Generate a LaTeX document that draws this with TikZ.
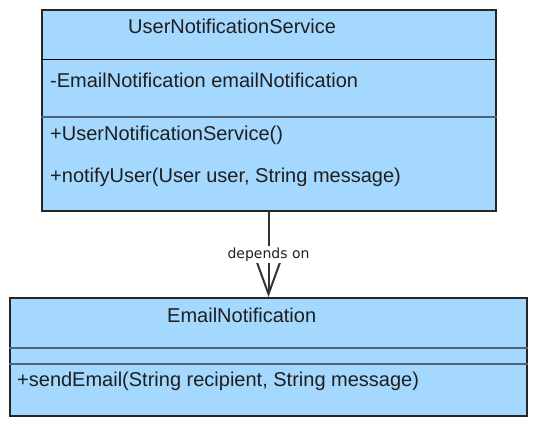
\documentclass[tikz,border=0pt]{standalone}
\usepackage{fontspec}
\setmainfont{Liberation Sans}
\newfontfamily\handfont{DejaVu Sans}
\usetikzlibrary{arrows.meta}

\definecolor{classfill}{HTML}{A4D8FF}
\definecolor{classline}{HTML}{262626}
\definecolor{rowline}{HTML}{4D6578}
\definecolor{textcol}{HTML}{1F1F1F}
\definecolor{depline}{HTML}{333333}

\begin{document}
\begin{tikzpicture}[x=1pt, y=-1pt,
  classbox/.style={rectangle, draw=classline, fill=classfill, line width=2pt, inner sep=0pt},
  member/.style={anchor=base west, inner sep=0pt, text=textcol, font=\fontsize{20}{24}\selectfont},
  divider/.style={draw=rowline, line width=2pt},
  dep/.style={draw=depline, line width=2pt, -{Straight Barb[length=33pt, width=24pt, line width=2pt]}},
  deplabel/.style={fill=white, inner sep=1.5pt, text=textcol, font=\handfont\fontsize{14}{16}\selectfont}]
  \useasboundingbox (0,0) rectangle (537,426);

  % class boxes
  \node[classbox, minimum width=454pt, minimum height=201pt] (S) at (268.5, 110.5) {};
  \node[classbox, minimum width=517pt, minimum height=118pt] (E) at (268.5, 357) {};

  % compartments
  \draw[black, line width=1pt] (S.west |- 0,59.5) -- (S.east |- 0,59.5);
  \draw[divider] (S.west |- 0,117) -- (S.east |- 0,117);
  \draw[divider] (E.west |- 0,348.3) -- (E.east |- 0,348.3);
  \draw[divider] (E.west |- 0,363.5) -- (E.east |- 0,363.5);

  % UserNotificationService
  \node[member] (Sname) at (128, 33.3) {UserNotificationService};
  \node[member] (Sattr) at (50, 87.3) {-EmailNotification emailNotification};
  \node[member] (Sctor) at (50, 140) {+UserNotificationService()};
  \node[member] (Snotify) at (50, 182.7) {+notifyUser(User user, String message)};

  % EmailNotification
  \node[member] (Ename) at (167, 322.3) {EmailNotification};
  \node[member] (Esend) at (17, 386.7) {+sendEmail(String recipient, String message)};

  % dependency
  \draw[dep] (S.south) -- node[deplabel] (Dlabel) {depends on} (E.north);
\end{tikzpicture}
\end{document}
